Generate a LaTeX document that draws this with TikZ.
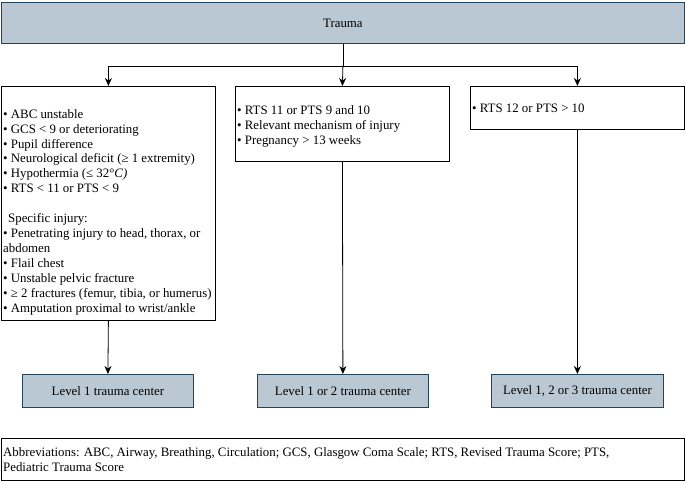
\documentclass[tikz,border=0pt]{standalone}
\usepackage{fontspec}
\setmainfont{Liberation Serif}
\usetikzlibrary{arrows.meta,calc}
\definecolor{boxfill}{HTML}{BAC8D3}
\definecolor{boxline}{HTML}{23445D}
\tikzset{
  bluebox/.style={draw=boxline, fill=boxfill, line width=0.8bp, inner sep=0pt, anchor=north west},
  whitebox/.style={draw=black, fill=white, line width=0.8bp, inner sep=0pt, anchor=north west},
  txt/.style={inner sep=0pt, anchor=north west, align=left, font=\fontsize{12.9}{15}\selectfont},
  ctxt/.style={inner sep=0pt, font=\fontsize{12.9}{15}\selectfont},
  conn/.style={draw=black, line width=0.8bp},
  arr/.style={conn, -{Stealth[length=8bp,width=7bp]}}
}
\begin{document}
\begin{tikzpicture}[x=1bp,y=-1bp]
\useasboundingbox (0,0) rectangle (685,482);
% top
\node[bluebox, minimum width=683bp, minimum height=41bp] (T) at (1,2) {};
\node[ctxt] (Tt) at (T.center) {Trauma};
% middle boxes
\node[whitebox, minimum width=214bp, minimum height=234bp] (L) at (1,86) {};
\node[whitebox, minimum width=214bp, minimum height=75bp] (M) at (235,86) {};
\node[whitebox, minimum width=214bp, minimum height=43bp] (R) at (470,86) {};
% texts
\node[txt] (Lt) at (3,109) {• ABC unstable\\
• GCS < 9 or deteriorating\\
• Pupil difference\\
• Neurological deficit (≥ 1 extremity)\\
• Hypothermia (≤ 32°\textit{C)}\\
• RTS < 11 or PTS < 9\\
\mbox{}\\
\hspace{5bp}Specific injury:\\
• Penetrating injury to head, thorax, or\\
abdomen\\
• Flail chest\\
• Unstable pelvic fracture\\
• ≥ 2 fractures (femur, tibia, or humerus)\\
• Amputation proximal to wrist/ankle};
\node[txt] (Mt) at (237,105) {• RTS 11 or PTS 9 and 10\\
• Relevant mechanism of injury\\
• Pregnancy > 13 weeks};
\node[txt] (Rt) at (472,104) {• RTS 12 or PTS > 10};
% bottom boxes
\node[bluebox, minimum width=171bp, minimum height=33bp] (L1) at (22,374) {};
\node[bluebox, minimum width=171bp, minimum height=33bp] (L2) at (257,374) {};
\node[bluebox, minimum width=172bp, minimum height=33bp] (L3) at (491,374) {};
\node[ctxt] (L1t) at (L1.center) {Level 1 trauma center};
\node[ctxt] (L2t) at (L2.center) {Level 1 or 2 trauma center};
\node[ctxt] (L3t) at (L3.center) {Level 1, 2 or 3 trauma center};
% abbreviations
\node[whitebox, minimum width=683bp, minimum height=42bp] (A) at (1,438) {};
\node[txt] (At) at (3,447) {Abbreviations: ABC, Airway, Breathing, Circulation; GCS, Glasgow Coma Scale; RTS, Revised Trauma Score; PTS,\\
Pediatric Trauma Score};
% connectors
\coordinate (J) at (T.south |- 0,66);
\draw[conn] (T.south) -- (J);
\draw[arr] (J) -| (L.north);
\draw[arr] (J) -- (M.north);
\draw[arr] (J) -| (R.north);
\draw[arr] (L.south) -- (L1.north);
\draw[arr] (M.south) -- (L2.north);
\draw[arr] (R.south) -- (L3.north);
\end{tikzpicture}
\end{document}
